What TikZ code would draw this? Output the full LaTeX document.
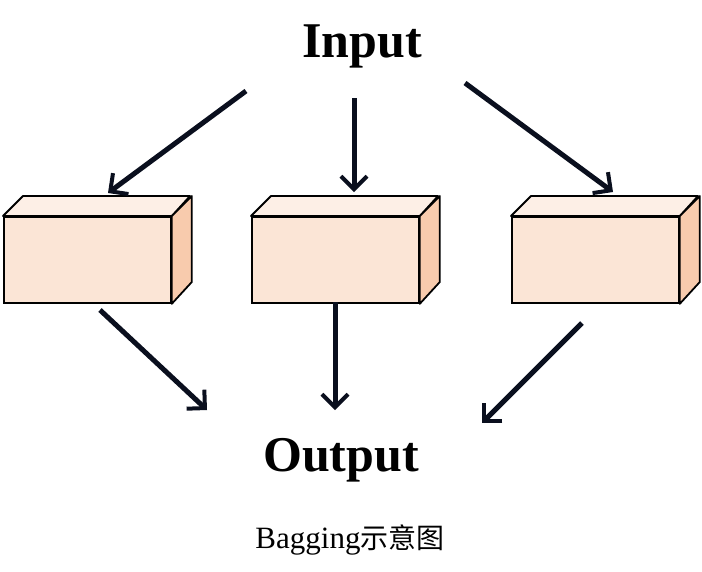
\documentclass[tikz,border=0pt]{standalone}
\usepackage{fontspec}
\setmainfont{Liberation Serif}
\newfontfamily\cjk{Noto Sans CJK SC}
\usetikzlibrary{arrows.meta}
\begin{document}
\begin{tikzpicture}[x=1pt,y=-1pt,
  front/.style={draw=black,line width=1.8pt,fill=frontc,minimum width=167pt,minimum height=86pt,inner sep=0pt,anchor=north west},
  topf/.style={draw=black,line width=1.8pt,fill=topc,line join=round},
  sidef/.style={draw=black,line width=1.8pt,fill=sidec,line join=round},
  arr/.style={draw=arrc,line width=5pt,-{Straight Barb[length=13pt,width=26pt,line width=4pt]}},
  lbl/.style={font=\bfseries\fontsize{50}{54}\selectfont}]
\definecolor{frontc}{HTML}{FBE5D6}
\definecolor{topc}{HTML}{FDEFE6}
\definecolor{sidec}{HTML}{F8CBAD}
\definecolor{arrc}{HTML}{0A0F1E}
\useasboundingbox (0,0) rectangle (702,571);
\foreach \n/\x in {a/3,b/251,c/511}{
  \node[front] (\n) at (\x,216) {};
  \path[topf] (\n.north west) -- ++(20,-20) -- ++(167,0) -- (\n.north east) -- cycle;
  \path[sidef] (\n.north east) -- ++(20,-20) -- ++(0,86) -- (\n.south east) -- cycle;
}
\node[lbl] (in) at (362,46) {Input};
\node[lbl] (out) at (341,460) {Output};
\node[font=\fontsize{31}{34}\selectfont] (cap) at (350,540) {Bagging{\cjk\fontsize{28}{34}\selectfont 示意图}};
\coordinate (i1) at (246,91); \coordinate (t1) at (108,193);
\coordinate (i2) at (354,98); \coordinate (t2) at (354,192);
\coordinate (i3) at (465,83); \coordinate (t3) at (613,192);
\coordinate (o1) at (100,310); \coordinate (e1) at (207,410);
\coordinate (o2) at (335,302); \coordinate (e2) at (335,410);
\coordinate (o3) at (582,323); \coordinate (e3) at (482,423);
\foreach \s/\e in {i1/t1,i2/t2,i3/t3,o1/e1,o2/e2,o3/e3} \draw[arr] (\s) -- (\e);
\end{tikzpicture}
\end{document}
